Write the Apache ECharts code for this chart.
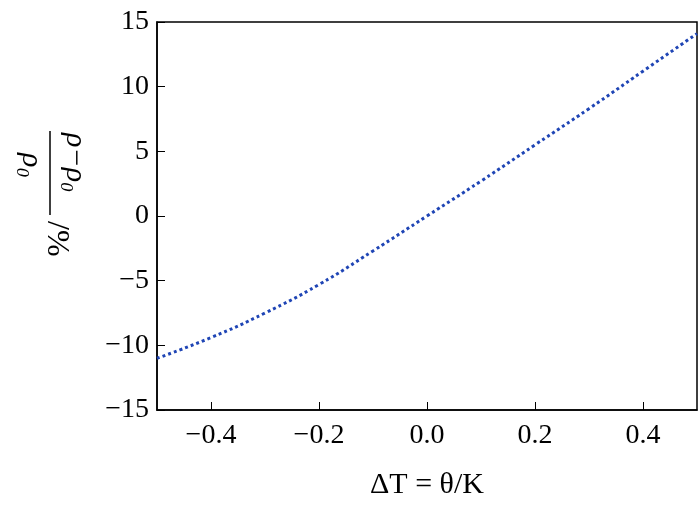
<!DOCTYPE html>
<html>
<head>
<meta charset="utf-8">
<script src="https://cdn.jsdelivr.net/npm/echarts@6/dist/echarts.min.js"></script>
<style>html,body{margin:0;padding:0;background:#fff}</style>
</head>
<body>
<div id="chart" style="width:700px;height:518px;"></div>
<script>
// values
var dT = [-0.5, -0.4, -0.3, -0.2, -0.1, 0.0, 0.1, 0.2, 0.3, 0.4, 0.5];
var rel = [-11.0, -9.4, -7.5, -5.3, -2.7, 0.0, 2.7, 5.5, 8.3, 11.2, 14.1];
var xTicks = [-0.4, -0.2, 0.0, 0.2, 0.4];

var font = 'Liberation Serif';
var pts = [];
for (var i = 0; i < dT.length; i++) pts.push([dT[i], rel[i]]);

var option = {
    animation: false,
    grid: { left: 157, right: 3, top: 22, bottom: 108, show: true, borderColor: '#000', borderWidth: 1.5 },
    xAxis: {
        type: 'value', min: -0.5, max: 0.5,
        axisLine: { onZero: false, lineStyle: { color: '#000', width: 1.5 } },
        axisTick: { inside: true, length: 8, customValues: xTicks, lineStyle: { color: '#000' } },
        splitLine: { show: false },
        axisLabel: {
            color: '#000', fontFamily: font, fontSize: 28, margin: 12, customValues: xTicks,
            formatter: function (v) {
                var r = Math.round(v * 10) / 10;
                return (r < 0 ? '\u2212' : '') + Math.abs(r).toFixed(1);
            }
        },
        name: '\u0394T = \u03b8/K', nameLocation: 'middle', nameGap: 60,
        nameTextStyle: { color: '#000', fontFamily: font, fontSize: 30 }
    },
    yAxis: {
        type: 'value', min: -15, max: 15, interval: 5,
        axisLine: { onZero: false, lineStyle: { color: '#000', width: 1.5 } },
        axisTick: { inside: true, length: 8, lineStyle: { color: '#000' } },
        splitLine: { show: false },
        axisLabel: {
            color: '#000', fontFamily: font, fontSize: 28, margin: 8,
            formatter: function (v) { return (v < 0 ? '\u2212' : '') + Math.abs(v); }
        }
    },
    graphic: [{
        type: 'group', rotation: -Math.PI / 2, x: 50, y: 215,
        children: [
            { type: 'text', x: -82, y: -40, style: { text: '\u03c1\u2212\u03c1\u2080', font: 'italic 30px ' + font, fill: '#000' } },
            { type: 'line', shape: { x1: -84, y1: 0, x2: 0, y2: 0 }, style: { stroke: '#000', lineWidth: 1.5 } },
            { type: 'text', x: -62, y: 4, style: { text: '\u03c1\u2080', font: 'italic 30px ' + font, fill: '#000' } },
            { type: 'text', x: 6, y: -22, style: { text: '/%', font: '32px ' + font, fill: '#000' } }
        ]
    }],
    series: [{
        type: 'line', data: pts, smooth: true, symbol: 'none',
        lineStyle: { color: '#1f45b5', width: 3, type: [3, 3] }
    }]
};
var chart = echarts.init(document.getElementById('chart'));
chart.setOption(option);
</script>
</body>
</html>
